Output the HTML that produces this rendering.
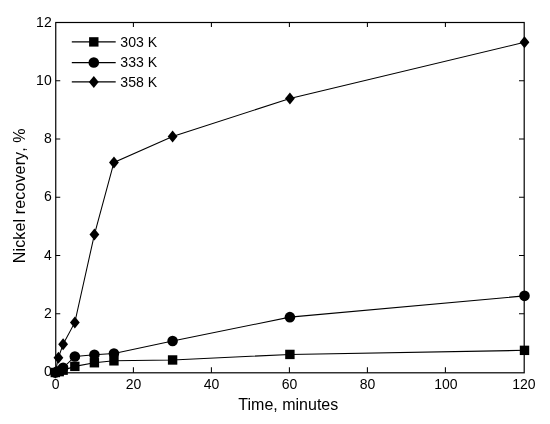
<!DOCTYPE html>
<html><head><meta charset="utf-8"><title>Nickel recovery vs time</title>
<style>
html,body{margin:0;padding:0;background:#fff;}
body{width:550px;height:424px;overflow:hidden;font-family:"Liberation Sans",Arial,sans-serif;}
svg{display:block;}
.ax{fill:none;stroke:#000;stroke-width:1.2;}
.tk{fill:none;stroke:#000;stroke-width:1.05;}
.ll{fill:none;stroke:#000;stroke-width:1.25;}
.ln{fill:none;stroke:#000;stroke-width:1.05;}
.mk{fill:#000;stroke:none;}
text{font-family:"Liberation Sans",Arial,sans-serif;fill:#000;}
.tl text{font-size:14px;}
.al{font-size:16px;}
.lg{font-size:14.1px;}
</style></head><body>
<svg width="550" height="424" viewBox="0 0 550 424">
<rect x="0" y="0" width="550" height="424" fill="#fff"/>
<rect class="ax" x="55.75" y="22.5" width="468.45" height="350.30"/>
<path class="tk" d="M133.40 372.8 v-5.5 M133.40 22.5 v4.4 M211.40 372.8 v-5.5 M211.40 22.5 v4.4 M289.40 372.8 v-5.5 M289.40 22.5 v4.4 M367.40 372.8 v-5.5 M367.40 22.5 v4.4 M445.40 372.8 v-5.5 M445.40 22.5 v4.4 M55.75 313.75 h4.5 M524.2 313.75 h-5.2 M55.75 255.50 h4.5 M524.2 255.50 h-5.2 M55.75 197.25 h4.5 M524.2 197.25 h-5.2 M55.75 139.00 h4.5 M524.2 139.00 h-5.2 M55.75 80.75 h4.5 M524.2 80.75 h-5.2"/>
<g class="tl" text-anchor="middle">
<text x="55.60" y="388.9">0</text>
<text x="133.60" y="388.9">20</text>
<text x="211.60" y="388.9">40</text>
<text x="289.60" y="388.9">60</text>
<text x="367.60" y="388.9">80</text>
<text x="445.90" y="388.9">100</text>
<text x="523.90" y="388.9">120</text>
</g>
<g class="tl" text-anchor="end">
<text x="51.7" y="376.20">0</text>
<text x="51.7" y="317.95">2</text>
<text x="51.7" y="259.70">4</text>
<text x="51.7" y="201.45">6</text>
<text x="51.7" y="143.20">8</text>
<text x="51.7" y="84.95">10</text>
<text x="51.7" y="26.70">12</text>
</g>
<text class="al" x="288.3" y="410" text-anchor="middle">Time, minutes</text>
<text class="al" transform="translate(25.4 263.2) rotate(-90)" text-anchor="start"><tspan letter-spacing="0.14">Nickel recovery</tspan>, %</text>
<polyline class="ln" points="55.30,372.50 59.21,371.63 63.12,370.17 74.85,366.38 94.40,362.74 113.95,360.84 172.60,359.97 289.90,354.43 524.50,350.35"/>
<g class="mk"><rect x="50.60" y="367.80" width="9.40" height="9.40"/><rect x="54.51" y="366.93" width="9.40" height="9.40"/><rect x="58.42" y="365.47" width="9.40" height="9.40"/><rect x="70.15" y="361.68" width="9.40" height="9.40"/><rect x="89.70" y="358.04" width="9.40" height="9.40"/><rect x="109.25" y="356.14" width="9.40" height="9.40"/><rect x="167.90" y="355.27" width="9.40" height="9.40"/><rect x="285.20" y="349.73" width="9.40" height="9.40"/><rect x="519.80" y="345.65" width="9.40" height="9.40"/></g>

<polyline class="ln" points="55.30,372.50 59.21,371.04 63.12,367.84 74.85,356.47 94.40,354.72 113.95,353.56 172.60,341.03 289.90,317.13 524.50,295.86"/>
<g class="mk"><circle cx="55.30" cy="372.50" r="5.3"/><circle cx="59.21" cy="371.04" r="5.3"/><circle cx="63.12" cy="367.84" r="5.3"/><circle cx="74.85" cy="356.47" r="5.3"/><circle cx="94.40" cy="354.72" r="5.3"/><circle cx="113.95" cy="353.56" r="5.3"/><circle cx="172.60" cy="341.03" r="5.3"/><circle cx="289.90" cy="317.13" r="5.3"/><circle cx="524.50" cy="295.86" r="5.3"/></g>

<polyline class="ln" points="55.30,372.50 58.43,357.64 63.12,344.23 74.85,322.38 94.40,234.52 113.95,162.40 172.60,136.47 289.90,98.58 524.50,42.34"/>
<g class="mk"><polygon points="55.30,366.50 60.20,372.50 55.30,378.50 50.40,372.50"/><polygon points="58.43,351.64 63.33,357.64 58.43,363.64 53.53,357.64"/><polygon points="63.12,338.23 68.02,344.23 63.12,350.23 58.22,344.23"/><polygon points="74.85,316.38 79.75,322.38 74.85,328.38 69.95,322.38"/><polygon points="94.40,228.52 99.30,234.52 94.40,240.52 89.50,234.52"/><polygon points="113.95,156.40 118.85,162.40 113.95,168.40 109.05,162.40"/><polygon points="172.60,130.47 177.50,136.47 172.60,142.47 167.70,136.47"/><polygon points="289.90,92.58 294.80,98.58 289.90,104.58 285.00,98.58"/><polygon points="524.50,36.34 529.40,42.34 524.50,48.34 519.60,42.34"/></g>

<path class="ll" d="M71.8 41.90 H115.7"/>
<g class="mk"><rect x="89.10" y="37.20" width="9.40" height="9.40"/></g>
<text class="lg" x="120.3" y="46.70">303 K</text>
<path class="ll" d="M71.8 62.50 H115.7"/>
<g class="mk"><circle cx="93.80" cy="62.50" r="5.3"/></g>
<text class="lg" x="120.3" y="67.30">333 K</text>
<path class="ll" d="M71.8 81.90 H115.7"/>
<g class="mk"><polygon points="93.80,75.90 98.70,81.90 93.80,87.90 88.90,81.90"/></g>
<text class="lg" x="120.3" y="86.50">358 K</text>
</svg>
</body></html>
